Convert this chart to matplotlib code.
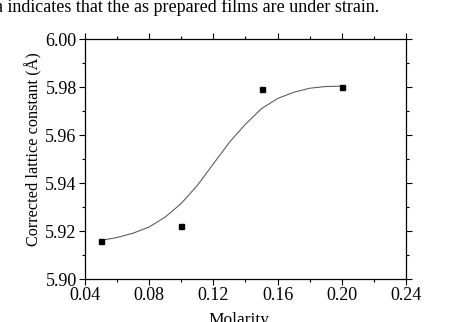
import matplotlib
matplotlib.use("Agg")
import matplotlib.pyplot as plt
from matplotlib.ticker import MultipleLocator, FormatStrFormatter

plt.rcParams['font.family'] = ['Liberation Serif', 'DejaVu Serif']

# measured lattice constants
molarity = [0.05, 0.10, 0.15, 0.20]
lattice = [5.916, 5.922, 5.979, 5.980]

# fitted curve through the measurements
fit_x = [0.05, 0.06, 0.07, 0.08, 0.09, 0.10, 0.11, 0.12,
         0.13, 0.14, 0.15, 0.16, 0.17, 0.18, 0.19, 0.20]
fit_y = [5.9161, 5.9173, 5.9191, 5.9217, 5.9258, 5.9315, 5.9390, 5.9480,
         5.9570, 5.9645, 5.9710, 5.9752, 5.9778, 5.9795, 5.9802, 5.9804]

fig = plt.figure(figsize=(4.74, 3.22), dpi=100)
ax = fig.add_axes([0.1793, 0.1335, 0.6772, 0.7453])

ax.plot(fit_x, fit_y, color='#555555', lw=0.75)
ax.plot(molarity, lattice, 's', color='black', ms=3.6)

ax.set_xlim(0.04, 0.24)
ax.set_ylim(5.90, 6.00)
ax.xaxis.set_major_locator(MultipleLocator(0.04))
ax.xaxis.set_minor_locator(MultipleLocator(0.02))
ax.yaxis.set_major_locator(MultipleLocator(0.02))
ax.yaxis.set_minor_locator(MultipleLocator(0.01))
ax.xaxis.set_major_formatter(FormatStrFormatter('%.2f'))
ax.yaxis.set_major_formatter(FormatStrFormatter('%.2f'))

ax.tick_params(which='both', direction='out', top=True, right=True,
               labelsize=13, width=0.8, pad=2)
ax.tick_params(which='major', length=4)
ax.tick_params(which='minor', length=2)
for s in ax.spines.values():
    s.set_linewidth(0.9)

ax.set_xlabel('Molarity', fontsize=12.5)
ax.xaxis.set_label_coords(0.48, -0.1375)
ax.set_ylabel('Corrected lattice constant (Å)', fontsize=11.7)
ax.yaxis.set_label_coords(-0.133, 0.542)

fig.text(-0.0095, 0.9627, 'a indicates that the as prepared films are under strain.',
         fontsize=13, va='baseline', ha='left')

fig.savefig('out.png', dpi=100)
